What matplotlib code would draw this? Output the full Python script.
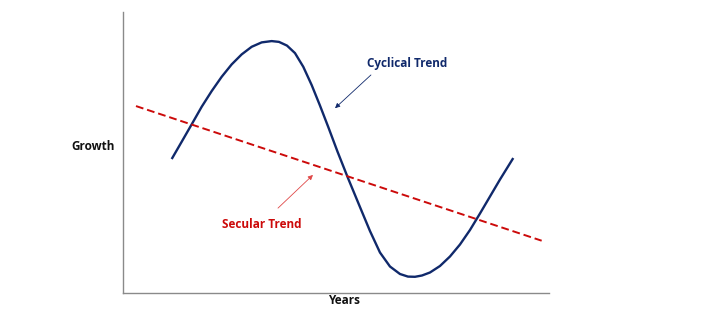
import matplotlib
matplotlib.use("Agg")
import matplotlib.pyplot as plt

# Cyclical trend (arbitrary units)
cyc_x = [48.7, 58.7, 68.7, 78.7, 88.7, 98.7, 108.7, 118.7, 128.7, 138.7, 148.7,
         156.0, 164.0, 172.0, 180.3, 188.7, 197.0, 205.3, 214.5, 225.0, 237.0,
         247.0, 257.0, 267.0, 277.0, 285.0, 292.0, 299.0, 307.0, 317.0, 327.0,
         337.0, 347.0, 357.0, 367.0, 377.0, 390.3]
cyc_y = [134.0, 151.3, 168.7, 186.3, 202.0, 216.3, 228.7, 238.7, 246.3, 250.7, 252.0,
         251.2, 247.5, 240.0, 226.3, 208.0, 187.5, 166.0, 141.5, 115.0, 86.0,
         62.0, 40.5, 26.5, 19.0, 16.4, 16.2, 17.5, 20.5, 27.0, 36.5,
         48.5, 63.0, 79.5, 96.5, 113.5, 135.0]

# Secular trend
sec_x = [13.0, 418.7]
sec_y = [187.0, 52.3]

navy = "#10296b"
red = "#cc0a0a"

fig = plt.figure(figsize=(7.02, 3.27), dpi=100)
ax = fig.add_axes([0.1752, 0.104, 0.6068, 0.859])
ax.set_xlim(0, 426)
ax.set_ylim(0, 281)

ax.plot(cyc_x, cyc_y, color=navy, lw=1.7, solid_joinstyle="round",
        solid_capstyle="butt")
ax.plot(sec_x, sec_y, color=red, lw=1.4, dashes=(4, 2))

for s in ["top", "right"]:
    ax.spines[s].set_visible(False)
for s in ["left", "bottom"]:
    ax.spines[s].set_color("#8a8a8a")
    ax.spines[s].set_linewidth(1.0)
ax.set_xticks([])
ax.set_yticks([])

font = ["Open Sans", "DejaVu Sans"]
ax.annotate("", xy=(210, 183), xytext=(250, 220),
            arrowprops=dict(arrowstyle="-|>", color=navy, lw=0.6,
                            mutation_scale=7))
ax.annotate("", xy=(192, 120), xytext=(153, 83),
            arrowprops=dict(arrowstyle="-|>", color="#e04848", lw=0.6,
                            mutation_scale=7))
ax.text(284, 230, "Cyclical Trend", color=navy, fontsize=8.5, fontweight="bold",
        family=font, ha="center", va="center")
ax.text(139, 69, "Secular Trend", color=red, fontsize=8.5, fontweight="bold",
        family=font, ha="center", va="center")

fig.text(93 / 702, 1 - 146 / 327, "Growth", fontsize=8.5, fontweight="bold",
         family=font, ha="center", va="center", color="#111111")
fig.text(344 / 702, 1 - 301 / 327, "Years", fontsize=8.5, fontweight="bold",
         family=font, ha="center", va="center", color="#111111")

fig.savefig("out.png", dpi=100)
